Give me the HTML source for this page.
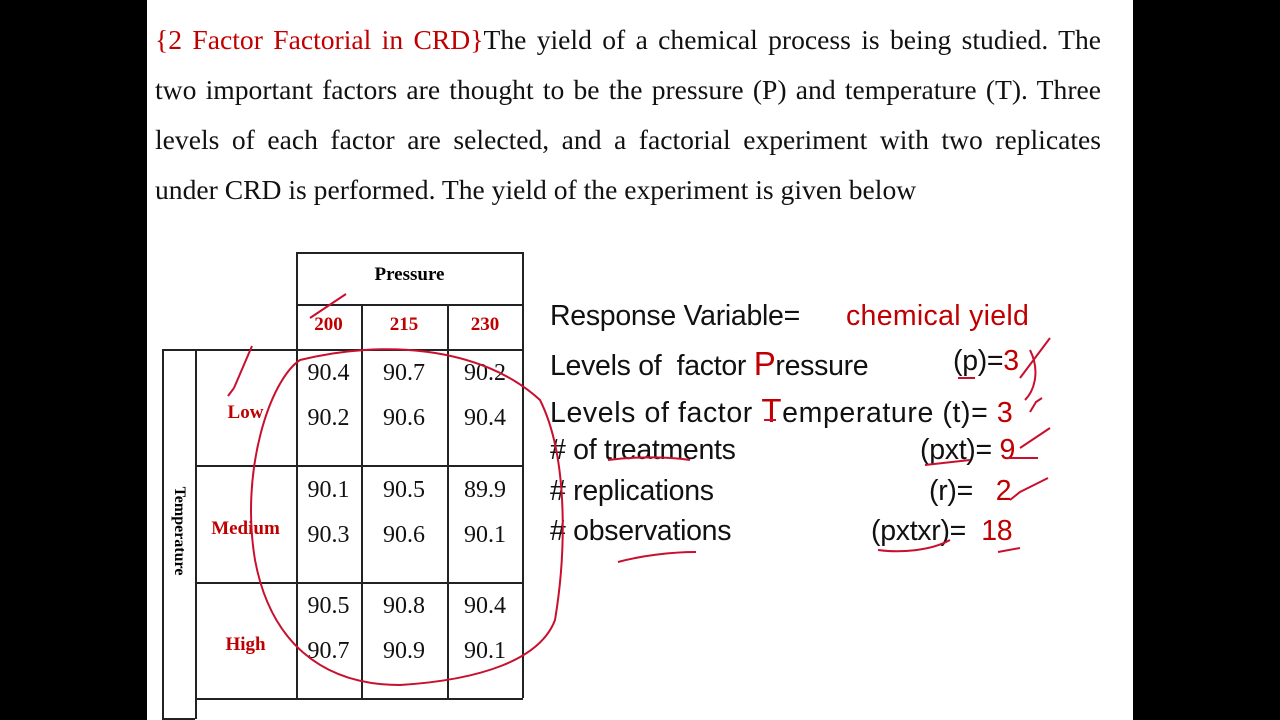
<!DOCTYPE html>
<html><head><meta charset="utf-8"><style>
body{margin:0;width:1280px;height:720px;background:#000;overflow:hidden;position:relative}
#slide{position:absolute;left:147px;top:0;width:986px;height:720px;background:#fff}
.p{position:absolute;left:155px;width:946px;font:27.6px "Liberation Serif",serif;color:#111;text-align:justify;text-align-last:justify;white-space:nowrap}
.c{position:absolute;font:24px "Liberation Serif",serif;color:#111;text-align:center}
.h{position:absolute;font:bold 19px "Liberation Serif",serif;color:#c00000;text-align:center}
.s{position:absolute;font:28.5px "Liberation Sans",sans-serif;color:#111;white-space:nowrap;letter-spacing:-0.3px}
.r{color:#c00000 !important}
.line{position:absolute;background:#222}
</style></head><body>
<div id="slide"></div>
<div class="p" style="top:24px"><span class="r">{2 Factor Factorial in CRD}</span>The yield of a chemical process is being studied. The</div>
<div class="p" style="top:74px">two important factors are thought to be the pressure (P) and temperature (T). Three</div>
<div class="p" style="top:124px">levels of each factor are selected, and a factorial experiment with two replicates</div>
<div class="p" style="top:174px;text-align-last:left">under CRD is performed. The yield of the experiment is given below</div>

<div>
<div class="line" style="left:296px;top:252px;width:227px;height:1.5px"></div>
<div class="line" style="left:296px;top:304px;width:227px;height:1.5px"></div>
<div class="line" style="left:162px;top:349px;width:361px;height:1.5px"></div>
<div class="line" style="left:195px;top:465px;width:328px;height:1.5px"></div>
<div class="line" style="left:195px;top:582px;width:328px;height:1.5px"></div>
<div class="line" style="left:195px;top:698px;width:328px;height:1.5px"></div>
<div class="line" style="left:162px;top:718px;width:33px;height:1.5px"></div>
<div class="line" style="left:162px;top:349px;width:1.5px;height:370px"></div>
<div class="line" style="left:195px;top:349px;width:1.5px;height:370px"></div>
<div class="line" style="left:296px;top:252px;width:1.5px;height:446px"></div>
<div class="line" style="left:361px;top:304px;width:1.5px;height:394px"></div>
<div class="line" style="left:447px;top:304px;width:1.5px;height:394px"></div>
<div class="line" style="left:522px;top:252px;width:1.5px;height:446px"></div>
<div style="position:absolute;left:296px;top:264px;width:227px;text-align:center;font:bold 19px 'Liberation Serif',serif">Pressure</div>
<div class="h" style="left:296px;top:314px;width:65px">200</div>
<div class="h" style="left:361px;top:314px;width:86px">215</div>
<div class="h" style="left:447px;top:314px;width:76px">230</div>
<div class="h" style="left:195px;top:402px;width:101px">Low</div>
<div class="h" style="left:195px;top:518px;width:101px">Medium</div>
<div class="h" style="left:195px;top:634px;width:101px">High</div>
<div style="position:absolute;left:119px;top:522px;width:120px;text-align:center;transform:rotate(90deg);font:bold 16px 'Liberation Serif',serif">Temperature</div>
<div id="cells"></div>
</div>

<div class="s" style="left:550px;top:300px">Response Variable=</div>
<div class="s r" style="left:846px;top:300px;letter-spacing:0.3px">chemical yield</div>
<div class="s" style="left:550px;top:345px">Levels of &nbsp;factor <span class="r" style="font-size:33px">P</span>ressure</div>
<div class="s" style="left:953px;top:345px">(p)=<span class="r">3</span></div>
<div class="s" style="left:550px;top:392px;letter-spacing:0.6px">Levels of factor <span class="r" style="font-size:33px">T</span>emperature (t)= <span class="r">3</span></div>
<div class="s" style="left:550px;top:434px"># of treatments</div>
<div class="s" style="left:920px;top:434px">(pxt)= <span class="r">9</span></div>
<div class="s" style="left:550px;top:475px"># replications</div>
<div class="s" style="left:929px;top:475px">(r)= &nbsp;&nbsp;<span class="r">2</span></div>
<div class="s" style="left:550px;top:515px"># observations</div>
<div class="s" style="left:871px;top:515px">(pxtxr)= &nbsp;<span class="r">18</span></div>

<svg width="1280" height="720" style="position:absolute;left:0;top:0" fill="none" stroke="#c8102e" stroke-width="2">
<path d="M300 360 C380 340 480 345 540 400 C570 460 565 560 555 620 C540 660 480 680 400 685 C320 685 270 640 255 560 C240 470 270 380 300 360Z"/>
<path d="M228 396 L234 388 M234 388 L252 346"/>
<path d="M310 318 L346 294"/>
<path d="M1020 378 L1050 338 M1030 350 C1040 370 1035 390 1025 400"/>
<path d="M1030 412 L1036 402 L1042 398"/>
<path d="M1008 458 L1038 458 M1020 448 L1050 428"/>
<path d="M1010 500 L1020 492 L1048 478"/>
<path d="M618 562 C640 556 670 552 696 552"/>
<path d="M878 550 C900 553 930 551 950 540"/>
<path d="M998 552 L1020 548"/>
<path d="M608 460 C640 456 670 457 690 460"/>
<path d="M925 465 L970 460"/>
<path d="M764 420 L776 420"/>
<path d="M958 378 L975 378"/>
</svg>
<script>
var rows=[["90.4","90.7","90.2"],["90.2","90.6","90.4"],["90.1","90.5","89.9"],["90.3","90.6","90.1"],["90.5","90.8","90.4"],["90.7","90.9","90.1"]];
var colX=[296,361,447],colW=[65,86,76],rowY=[360,405,477,522,593,638];
var host=document.getElementById('cells');
rows.forEach(function(r,i){r.forEach(function(v,j){var d=document.createElement('div');d.className='c';


d.style.left=colX[j]+'px';d.style.top=rowY[i]+'px';d.style.width=colW[j]+'px';d.textContent=v;host.appendChild(d);});});
</script>
</body></html>
